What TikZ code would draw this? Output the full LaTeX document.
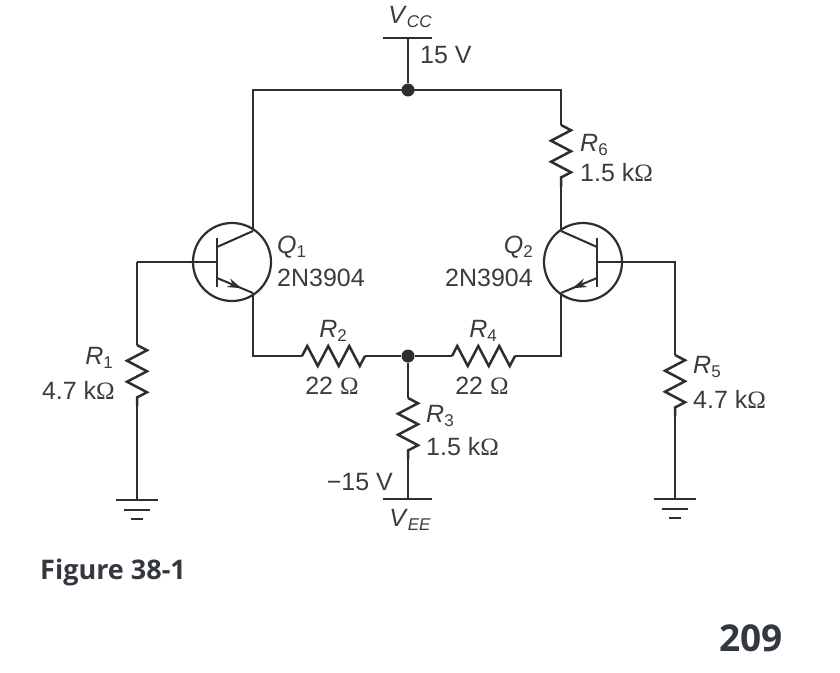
\documentclass[tikz,border=0pt]{standalone}
\usepackage{fontspec}
\setmainfont{Liberation Sans}
\newfontfamily\figfont{Open Sans}
\newfontfamily\omfont{Liberation Serif}
\usetikzlibrary{decorations.pathmorphing,decorations.markings,arrows.meta}
\definecolor{ink}{HTML}{2E2E2E}
\definecolor{txt}{HTML}{3C3C3C}
\definecolor{figink}{HTML}{33383E}
\tikzset{
  wire/.style={draw=ink,line width=2.5pt,line join=miter},
  thin wire/.style={draw=ink,line width=2pt},
  res/.style={wire,decorate,decoration={zigzag,segment length=21pt,amplitude=10pt}},
  junction/.style={circle,fill=ink,inner sep=0pt,minimum size=13pt},
  lbl/.style={text=txt,font=\fontsize{25}{27}\selectfont,inner sep=0pt},
  rail/.style={draw=ink,line width=1.8pt},
  tr/.style={circle,draw=ink,line width=2.2pt,minimum size=78pt,inner sep=0pt},
  bigfig/.style={text=figink,inner sep=0pt},
  emitter/.style={thin wire,postaction={decorate,decoration={markings,mark=at position 0.68 with {\arrow[ink]{Stealth[length=14pt,width=9pt]}}}}}
}
\newcommand{\om}{{\omfont Ω}}
\newcommand{\symb}[2]{\textit{#1}\raisebox{-0.35ex}{\fontsize{17}{18}\selectfont #2}}
\begin{document}
\begin{tikzpicture}[x=1pt,y=-1pt]
\useasboundingbox (0,0) rectangle (840,672);
\node[tr] (q1) at (232,262) {};
\node[tr] (q2) at (583,262) {};
\node[junction] (top) at (408,90) {};
\node[junction] (mid) at (408,356) {};
\coordinate (vcc) at (408,38);
\coordinate (vee) at (408,499);
\coordinate (tl) at (253,90);
\coordinate (tr6) at (561,90);
\coordinate (r6a) at (561,125);
\coordinate (r6b) at (561,187);
\coordinate (c1) at (253,231);
\coordinate (e1) at (253,293);
\coordinate (c2) at (561,231);
\coordinate (e2) at (561,293);
\coordinate (b1) at (217,262);
\coordinate (b2) at (597,262);
\coordinate (b1t) at (217,238);
\coordinate (b1b) at (217,287);
\coordinate (b2t) at (597,238);
\coordinate (b2b) at (597,287);
\coordinate (b1c) at (217,247);
\coordinate (b1e) at (217,278);
\coordinate (b2c) at (597,247);
\coordinate (b2e) at (597,278);
\coordinate (l1) at (137,262);
\coordinate (l5) at (675,262);
\coordinate (r1a) at (137,345);
\coordinate (r1b) at (137,406);
\coordinate (g1) at (137,500);
\coordinate (r5a) at (675,355);
\coordinate (r5b) at (675,416);
\coordinate (g5) at (675,499);
\coordinate (c2l) at (253,356);
\coordinate (r2a) at (302,356);
\coordinate (r2b) at (365,356);
\coordinate (r4a) at (452,356);
\coordinate (r4b) at (515,356);
\coordinate (c4r) at (561,356);
\coordinate (r3a) at (408,398);
\coordinate (r3b) at (408,459);
% supplies
\draw[rail] (383,38) -- (432,38);
\draw[rail] (383,499) -- (432,499);
\draw[wire] (vcc) -- (top);
\draw[wire] (c1) -- (tl) -- (tr6) -- (r6a);
\draw[res] (r6a) -- (r6b);
\draw[wire] (r6b) -- (c2);
% Q1
\draw[wire] (l1) -- (b1);
\draw[wire] (b1t) -- (b1b);
\draw[thin wire] (b1c) -- (c1);
\draw[emitter] (b1e) -- (e1);
% Q2
\draw[wire] (b2) -- (l5) -- (r5a);
\draw[wire] (b2t) -- (b2b);
\draw[thin wire] (b2c) -- (c2);
\draw[emitter] (b2e) -- (e2);
% R1, R5 and grounds
\draw[wire] (l1) -- (r1a);
\draw[res] (r1a) -- (r1b);
\draw[wire] (r1b) -- (g1);
\draw[res] (r5a) -- (r5b);
\draw[wire] (r5b) -- (g5);
\foreach \g in {g1,g5}{
  \draw[rail] ([xshift=-21pt]\g) -- ([xshift=21pt]\g);
  \draw[rail] ([xshift=-13pt,yshift=-10pt]\g) -- ([xshift=13pt,yshift=-10pt]\g);
  \draw[rail] ([xshift=-6pt,yshift=-19pt]\g) -- ([xshift=6pt,yshift=-19pt]\g);
}
% bottom rail
\draw[wire] (e1) -- (c2l) -- (r2a);
\draw[res] (r2a) -- (r2b);
\draw[wire] (r2b) -- (mid) -- (r4a);
\draw[res] (r4a) -- (r4b);
\draw[wire] (r4b) -- (c4r) -- (e2);
\draw[wire] (mid) -- (r3a);
\draw[res] (r3a) -- (r3b);
\draw[wire] (r3b) -- (vee);
% labels
\node[lbl] (tvcc) at (410,17) {\symb{V}{\textit{CC}}};
\node[lbl,anchor=west] (t15) at (420,55) {15 V};
\node[lbl,anchor=west] (tr6n) at (580,145) {\symb{R}{6}};
\node[lbl,anchor=west] (tr6v) at (580,173) {1.5 k\om};
\node[lbl,anchor=west] (tq1) at (277,247) {\symb{Q}{1}};
\node[lbl,anchor=west] (tq1t) at (277,278) {2N3904};
\node[lbl,anchor=east] (tq2) at (533,247) {\symb{Q}{2}};
\node[lbl,anchor=east] (tq2t) at (533,278) {2N3904};
\node[lbl,anchor=east] (tr1n) at (113,358) {\symb{R}{1}};
\node[lbl,anchor=east] (tr1v) at (115,390) {4.7 k\om};
\node[lbl] (tr2n) at (333,331) {\symb{R}{2}};
\node[lbl] (tr2v) at (332,386) {22 \om};
\node[lbl] (tr4n) at (483,331) {\symb{R}{4}};
\node[lbl] (tr4v) at (482,386) {22 \om};
\node[lbl,anchor=west] (tr3n) at (426,416) {\symb{R}{3}};
\node[lbl,anchor=west] (tr3v) at (426,447) {1.5 k\om};
\node[lbl,anchor=east] (tvee1) at (393,482) {−15 V};
\node[lbl] (tvee) at (410,520) {\symb{V}{\textit{EE}}};
\node[lbl,anchor=west] (tr5n) at (693,367) {\symb{R}{5}};
\node[lbl,anchor=west] (tr5v) at (693,399) {4.7 k\om};
\node[bigfig,anchor=west,font=\figfont\bfseries\fontsize{27}{30}\selectfont] (tfig) at (40,572) {Figure 38-1};
\node[bigfig,anchor=east,font=\figfont\bfseries\fontsize{37}{40}\selectfont] (tpage) at (783,638) {209};
\end{tikzpicture}
\end{document}
